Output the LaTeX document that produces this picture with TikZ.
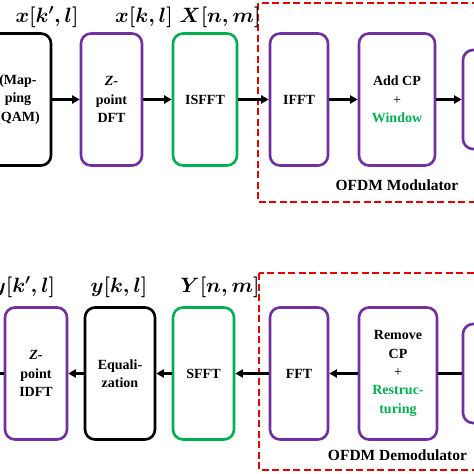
\documentclass[tikz,border=0pt]{standalone}
\usepackage{fontspec}
\setmainfont{Liberation Serif}
\usetikzlibrary{arrows.meta}

\definecolor{blkpurple}{RGB}{112,48,160}
\definecolor{blkgreen}{RGB}{0,176,80}
\definecolor{ofdmred}{RGB}{228,0,0}

\begin{document}
\begin{tikzpicture}[x=1pt, y=-1pt,
    block/.style={draw, rounded corners=10pt, line width=2.6pt, inner sep=0pt,
      align=center, font=\fontsize{14}{18.3}\selectfont\bfseries},
    flow/.style={line width=2.4pt, -{Triangle[length=7.5pt,width=8pt]}},
    sig/.style={font=\fontsize{21.5}{24}\selectfont\boldmath},
    ofdmbox/.style={draw=ofdmred, line width=2.6pt, dash pattern=on 7pt off 3.5pt},
    ofdmlabel/.style={font=\fontsize{15.5}{18}\selectfont\bfseries}]

        % Page size of the (cropped) figure
        \useasboundingbox (0,0) rectangle (474,474);
        \clip (0,0) rectangle (474,474);

        % Row heights
        \def\rowTx{99.5}
        \def\rowRx{373.5}

        % Dashed OFDM frames
        \draw[ofdmbox] (258,3) rectangle (500,202);
        \draw[ofdmbox] (259,273) rectangle (500,470);
        \node[ofdmlabel] (modlabel) at (397,185) {OFDM Modulator};
        \node[ofdmlabel] (demodlabel) at (397.5,455) {OFDM Demodulator};

        % Transmitter chain
        \node[block, minimum width=66pt, minimum height=132pt] (map) at (18,\rowTx) {(Map-\\ping\\(QAM)};
        \node[block, draw=blkpurple, minimum width=61pt, minimum height=132pt] (dft) at (111.5,\rowTx) {\textit{Z}-\\point\\DFT};
        \node[block, draw=blkgreen, minimum width=64pt, minimum height=132pt] (isfft) at (205,\rowTx) {ISFFT};
        \node[block, draw=blkpurple, minimum width=58pt, minimum height=132pt] (ifft) at (299,\rowTx) {IFFT};
        \node[block, draw=blkpurple, minimum width=76pt, minimum height=132pt] (addcp) at (397,\rowTx) {Add CP\\{\mdseries+}\\\textcolor{blkgreen}{Window}};
        \node[block, draw=blkpurple, minimum width=60pt, minimum height=99pt] (txnext) at (493,\rowTx) {};

        % Receiver chain
        \node[block, draw=blkpurple, minimum width=62pt, minimum height=132pt] (idft) at (36,\rowRx) {\textit{Z}-\\point\\IDFT};
        \node[block, minimum width=70pt, minimum height=132pt] (eq) at (120,\rowRx) {Equali-\\zation};
        \node[block, draw=blkgreen, minimum width=61pt, minimum height=132pt] (sfft) at (203.5,\rowRx) {SFFT};
        \node[block, draw=blkpurple, minimum width=58pt, minimum height=132pt] (fft) at (299,\rowRx) {FFT};
        \node[block, draw=blkpurple, minimum width=78pt, minimum height=132pt] (rmcp) at (398,\rowRx) {Remove\\CP\\{\mdseries+}\\\textcolor{blkgreen}{Restruc-}\\\textcolor{blkgreen}{turing}};
        \node[block, draw=blkpurple, minimum width=60pt, minimum height=99pt] (rxnext) at (493,\rowRx) {};
        \coordinate (rxout) at (-12,\rowRx);

        % Signal labels
        \node[sig] (xkpl) at (47,17) {$x[k',l]$};
        \node[sig] (xkl) at (144,17) {$x[k,l]$};
        \node[sig] (Xnm) at (220,17) {$X[n,m]$};
        \node[sig] (ykpl) at (24,287) {$y[k',l]$};
        \node[sig] (ykl) at (119,287) {$y[k,l]$};
        \node[sig] (Ynm) at (220,287) {$Y[n,m]$};

        % Connections
        \foreach \a/\b in {map/dft, dft/isfft, isfft/ifft, ifft/addcp, addcp/txnext,
                           sfft/eq, fft/sfft, rmcp/fft, eq/idft, idft/rxout}{
            \draw[flow] (\a) -- (\b);
          }
        \draw[line width=2.4pt] (rxnext) -- (rmcp);
      \end{tikzpicture}
\end{document}
